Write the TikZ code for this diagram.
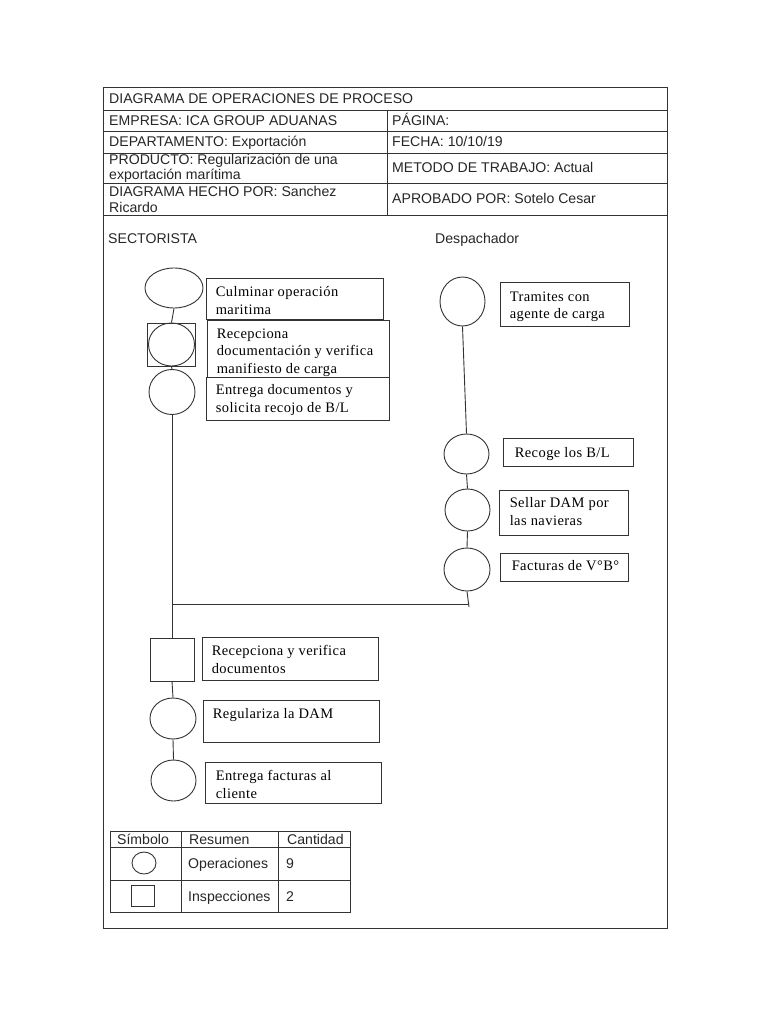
\documentclass[tikz,border=0pt]{standalone}
\usepackage{fontspec}
\setmainfont{Liberation Serif}
\newfontfamily\arial{Liberation Sans}
\newfontfamily\boxserif[LetterSpace=3]{Liberation Serif}
\usetikzlibrary{shapes.geometric}
\begin{document}
\begin{tikzpicture}[x=1pt,y=-1pt,
  ln/.style={draw=black!80, line width=0.9pt},
  op/.style={ellipse, ln, inner sep=0pt},
  insp/.style={rectangle, ln, inner sep=0pt},
  box/.style={rectangle, ln, inner sep=0pt},
  btxt/.style={anchor=north west, inner sep=0pt, align=left, font=\boxserif\fontsize{14.5}{17.5}\selectfont, text=black},
  htxt/.style={anchor=west, inner sep=0pt, align=left, font=\arial\fontsize{14.1}{15.5}\selectfont, text=black!85},
  hbase/.style={htxt, anchor=base west},
  conn/.style={draw=black!80, line width=0.9pt}
]
\useasboundingbox (0,0) rectangle (768,1024);
\fill[white] (0,0) rectangle (768,1024);

% outer frame and header table
\draw[conn] (103,87) rectangle (667,928);
\draw[conn] (103,110) -- (667,110);
\draw[conn] (103,131) -- (667,131);
\draw[conn] (103,153) -- (667,153);
\draw[conn] (103,183) -- (667,183);
\draw[conn] (103,215) -- (667,215);
\draw[conn] (387,110) -- (387,215);

\node[hbase] (h1) at (109,103.5) {DIAGRAMA DE OPERACIONES DE PROCESO};
\node[hbase] (h2) at (109,125.5) {EMPRESA: ICA GROUP ADUANAS};
\node[hbase] (h3) at (392,125.5) {PÁGINA:};
\node[hbase] (h4) at (109,146.5) {DEPARTAMENTO: Exportación};
\node[hbase] (h5) at (392,146.5) {FECHA: 10/10/19};
\node[htxt] (h6) at (109,168.5) {PRODUCTO: Regularización de una\\exportación marítima};
\node[hbase] (h7) at (392,172.5) {METODO DE TRABAJO: Actual};
\node[htxt] (h8) at (109,199.5) {DIAGRAMA HECHO POR: Sanchez\\Ricardo};
\node[hbase] (h9) at (392,203.5) {APROBADO POR: Sotelo Cesar};

\node[hbase] (sec) at (108,243.5) {SECTORISTA};
\node[hbase] (des) at (435,243.5) {Despachador};

% left column
\node[op, minimum width=58pt, minimum height=40pt] (L1) at (174,288) {};
\node[insp, minimum width=48pt, minimum height=43pt] (L2sq) at (171.5,344.5) {};
\node[op, minimum width=46pt, minimum height=43pt] (L2) at (171.5,344.5) {};
\node[op, minimum width=46pt, minimum height=45pt] (L3) at (172,392) {};

\node[box, minimum width=177pt, minimum height=41pt] (b1) at (294.5,298.5) {};
\node[btxt] (t1) at ([shift={(10,9)}]b1.north west) {Culminar operación\\maritima};
\node[box, minimum width=182pt, minimum height=57pt] (b2) at (298,348.5) {};
\node[btxt] (t2) at ([shift={(10,9)}]b2.north west) {Recepciona\\documentación y verifica\\manifiesto de carga};
\node[box, minimum width=183pt, minimum height=43pt] (b3) at (297.5,398.5) {};
\node[btxt] (t3) at ([shift={(10,8)}]b3.north west) {Entrega documentos y\\solicita recojo de B/L};

% right column
\node[op, minimum width=45pt, minimum height=49pt] (R1) at (462.5,301.5) {};
\node[op, minimum width=45pt, minimum height=40pt] (R2) at (466.5,454) {};
\node[op, minimum width=45pt, minimum height=42pt] (R3) at (467.5,510) {};
\node[op, minimum width=46pt, minimum height=43pt] (R4) at (467,569.5) {};

\node[box, minimum width=129pt, minimum height=44pt] (b4) at (564.5,304) {};
\node[btxt] (t4) at ([shift={(10,10)}]b4.north west) {Tramites con\\agente de carga};
\node[box, minimum width=130pt, minimum height=28pt] (b5) at (568,452) {};
\node[btxt] (t5) at ([shift={(12,10)}]b5.north west) {Recoge los B/L};
\node[box, minimum width=129pt, minimum height=45pt] (b6) at (563.5,512.5) {};
\node[btxt] (t6) at ([shift={(11,8)}]b6.north west) {Sellar DAM por\\las navieras};
\node[box, minimum width=128pt, minimum height=28pt] (b7) at (564,567) {};
\node[btxt] (t7) at ([shift={(12,8)}]b7.north west) {Facturas de V°B°};

% lower left column
\node[insp, minimum width=44pt, minimum height=43pt] (B1) at (172,659.5) {};
\node[op, minimum width=46pt, minimum height=41pt] (B2) at (173,718.5) {};
\node[op, minimum width=45pt, minimum height=41pt] (B3) at (173.5,780.5) {};

\node[box, minimum width=176pt, minimum height=43pt] (b8) at (290,658.5) {};
\node[btxt] (t8) at ([shift={(10,9)}]b8.north west) {Recepciona y verifica\\documentos};
\node[box, minimum width=176pt, minimum height=42pt] (b9) at (291,721) {};
\node[btxt] (t9) at ([shift={(10,9)}]b9.north west) {Regulariza la DAM};
\node[box, minimum width=176pt, minimum height=41pt] (b10) at (293,782.5) {};
\node[btxt] (t10) at ([shift={(11,9)}]b10.north west) {Entrega facturas al\\cliente};

% connectors
\coordinate (JL) at (173,604);
\coordinate (JR) at (469,604);
\coordinate (RE) at (469,607);
\draw[conn] (L1.south) -- (L2sq.north);
\draw[conn] (L2sq.south) -- (L3.north);
\draw[conn] (L3.south) -- (B1.north);
\draw[conn] (JL) -- (JR);
\draw[conn] (R1.south) -- (R2.north);
\draw[conn] (R2.south) -- (R3.north);
\draw[conn] (R3.south) -- (R4.north);
\draw[conn] (R4.south) -- (RE);
\draw[conn] (B1.south) -- (B2.north);
\draw[conn] (B2.south) -- (B3.north);

% summary table
\draw[conn] (110,831) rectangle (350,912);
\draw[conn] (110,847) -- (350,847);
\draw[conn] (110,880) -- (350,880);
\draw[conn] (181,831) -- (181,912);
\draw[conn] (278,831) -- (278,912);
\node[hbase, anchor=base] (s1) at (143,844) {Símbolo};
\node[hbase] (s2) at (189,844) {Resumen};
\node[hbase] (s3) at (287,844) {Cantidad};
\node[op, minimum width=24pt, minimum height=22pt] (sym1) at (144,863) {};
\node[insp, minimum width=23pt, minimum height=21pt] (sym2) at (142.5,895.5) {};
\node[hbase] (s4) at (188,868) {Operaciones};
\node[hbase] (s5) at (286,868) {9};
\node[hbase] (s6) at (188,901) {Inspecciones};
\node[hbase] (s7) at (286,901) {2};
\end{tikzpicture}
\end{document}
